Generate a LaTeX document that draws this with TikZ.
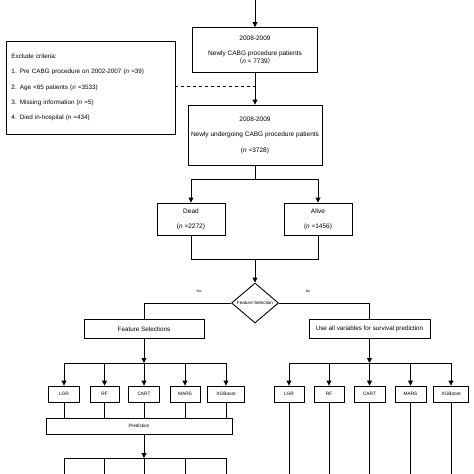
\documentclass[tikz,border=0pt]{standalone}
\usepackage{fontspec}
\setmainfont{Liberation Sans}
\newfontfamily\cjk{Noto Sans CJK SC}
\usetikzlibrary{arrows.meta,positioning,shapes.geometric}

\begin{document}
\begin{tikzpicture}[x=1pt, y=-1pt, line width=0.9pt,
    box/.style={draw, inner sep=0pt, align=center, font=\fontsize{6.5}{7}\selectfont},
    model/.style={box, minimum height=16pt, font=\fontsize{4.8}{5}\selectfont},
    lbl/.style={inner sep=0pt, font=\fontsize{3.5}{4}\selectfont},
    arr/.style={-{Triangle[length=5pt,width=5pt]}}]
  \useasboundingbox (0,0) rectangle (474,474);

  % cohort
  \node[box, minimum width=125pt, minimum height=45pt, font=\fontsize{6.5}{8.4}\selectfont] (cabg) at (255,50)
    {2008-2009\\[7pt]Newly CABG procedure patients\\{\cjk （}\textit{n} = 7739{\cjk ）}};
  \node[box, align=left, text width=158pt, inner xsep=5.5pt, minimum height=93pt,
        font=\fontsize{6.3}{15.25}\selectfont] (excl) at (90.5,87.5)
    {Exclude criteria:\\
     1. Pre CABG procedure on 2002-2007 (\textit{n} =39)\\
     2. Age <65 patients (\textit{n} =3533)\\
     3. Missing information (\textit{n} =5)\\
     4. Died in-hospital (\textit{n} =434)};
  \node[box, minimum width=134pt, minimum height=60pt, font=\fontsize{6.5}{15.5}\selectfont] (cabgB) at (255,135)
    {2008-2009\\Newly undergoing CABG procedure patients\\(\textit{n} =3728)};

  \node[box, minimum width=68pt, minimum height=32pt, font=\fontsize{6.5}{15}\selectfont] (dead) at (191,219)
    {Dead\\(\textit{n} =2272)};
  \node[box, minimum width=68pt, minimum height=32pt, font=\fontsize{6.5}{15}\selectfont] (alive) at (318,219)
    {Alive\\(\textit{n} =1456)};

  % decision
  \node[draw, diamond, aspect=1.2, inner sep=0pt, minimum width=47pt, minimum height=40pt,
        font=\fontsize{4.6}{5}\selectfont] (dia) at (255,303) {Feature Selection};
  \node[lbl] (yes) at (199,291) {Yes};
  \node[lbl] (no) at (308,291) {No};

  \node[box, minimum width=120pt, minimum height=19pt, font=\fontsize{6.3}{7}\selectfont] (feat) at (144,329) {Feature Selections};
  \node[box, minimum width=121pt, minimum height=19pt, font=\fontsize{6.3}{7}\selectfont] (allvar) at (369.5,329)
    {Use all variables for survival prediction};

  % models
  \foreach \x/\n/\t/\w in {64/lgrA/LGR/31, 104.5/rfA/RF/29, 144/cartA/CART/31, 185/marsA/MARS/30, 226/xgbA/XGBoost/37}
    \node[model, minimum width=\w pt] (\n) at (\x,394) {\t};
  \foreach \x/\n/\t/\w in {289/lgrB/LGR/30, 329/rfB/RF/30, 369.5/cartB/CART/31, 410.5/marsB/MARS/31, 451/xgbB/XGBoost/35}
    \node[model, minimum width=\w pt] (\n) at (\x,394) {\t};

  \node[box, minimum width=186pt, minimum height=16pt, font=\fontsize{4.7}{5}\selectfont] (pred) at (139,426) {Prediction};

  % junctions
  \coordinate (top) at (255,0);
  \coordinate (bot) at (0,474);
  \coordinate (dash) at (255,86);
  \coordinate (j1) at (255,179);
  \coordinate (j2) at (255,259);
  \coordinate (j3) at (144,363);
  \coordinate (j4) at (369.5,363);
  \coordinate (j5) at (144,458);

  \draw[arr] (top) -- (cabg);
  \draw[arr] (cabg) -- (cabgB);
  \draw[dashed, line width=0.6pt] (excl.east |- dash) -- (dash);
  \draw (cabgB) -- (j1);
  \draw[arr] (j1) -| (dead);
  \draw[arr] (j1) -| (alive);
  \draw (dead) |- (j2);
  \draw (alive) |- (j2);
  \draw[arr] (j2) -- (dia);
  \draw (dia) -| (feat);
  \draw (dia) -| (allvar);
  \draw[arr] (feat) -- (j3);
  \draw[arr] (allvar) -- (j4);
  \draw[arr] (pred.south -| j5) -- (j5);
  \foreach \n in {lgrA,rfA,cartA,marsA,xgbA}{
    \draw[arr] (j3) -| (\n);
    \draw (\n) -- (\n |- pred.north);
    \draw (j5) -| (\n |- bot);
  }
  \foreach \n in {lgrB,rfB,cartB,marsB,xgbB}{
    \draw[arr] (j4) -| (\n);
    \draw (\n) -- (\n |- bot);
  }
\end{tikzpicture}
\end{document}
